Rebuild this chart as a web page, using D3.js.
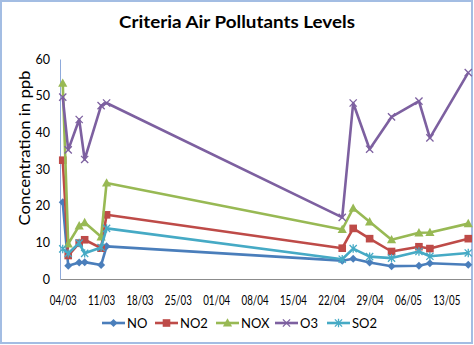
<!DOCTYPE html>
<html>
<head>
<meta charset="utf-8">
<script src="https://cdn.jsdelivr.net/npm/d3@7"></script>
<style>
  html, body { margin: 0; padding: 0; background: #fff; }
  svg { display: block; }
  text { font-family: Lato, "Liberation Sans", sans-serif; fill: #000; }
</style>
</head>
<body>
<svg id="chart" width="474" height="345"></svg>
<script>
// ---- data ----
const dates = ["2013-03-04","2013-03-05","2013-03-07","2013-03-08","2013-03-11","2013-03-12",
               "2013-04-24","2013-04-26","2013-04-29","2013-05-03","2013-05-08","2013-05-10","2013-05-17"];
const NO  = [20.9, 3.6, 4.5, 4.6, 3.8, 8.9, 5.0, 5.5, 4.5, 3.5, 3.6, 4.3, 3.9];
const NO2 = [32.4, 6.4, 9.8, 10.7, 8.4, 17.5, 8.4, 13.8, 11.0, 7.5, 8.8, 8.3, 11.0];
const NOX = [53.4, 9.6, 14.5, 15.4, 11.5, 26.2, 13.5, 19.3, 15.6, 10.7, 12.6, 12.7, 15.1];
const O3  = [49.6, 35.2, 43.5, 32.6, 47.3, 48.0, 16.8, 48.0, 35.4, 44.2, 48.5, 38.5, 56.3];
const SO2 = [8.2, 7.0, 9.8, 7.0, 8.6, 13.8, 5.4, 8.3, 6.1, 5.7, 7.5, 6.2, 7.1];
const seriesNames = ["NO", "NO2", "NOX", "O3", "SO2"];
const seriesColors = ["#4A7EBB", "#BE4B48", "#98B954", "#7D60A0", "#46AAC5"];
const seriesMarkers = ["diamond", "square", "triangle", "x", "star"];
const yTicks = [0, 10, 20, 30, 40, 50, 60];
const xTickLabels = ["04/03","11/03","18/03","25/03","01/04","08/04","15/04","22/04","29/04","06/05","13/05"];
const domainStart = "2013-03-04", domainEnd = "2013-05-17";
const title = "Criteria Air Pollutants Levels";
const yTitle = "Concentration in ppb";

const seriesValues = [NO, NO2, NOX, O3, SO2];
const DAY = 864e5;
const parse = s => new Date(s + "T12:00:00Z");  // day centre

// ---- layout ----
const svg = d3.select("#chart");
const plot = { left: 60, right: 471, top: 59, bottom: 279 };

svg.append("rect").attr("x", 1).attr("y", 1).attr("width", 471).attr("height", 342)
  .attr("fill", "#fff").attr("stroke", "#a3bde3").attr("stroke-width", 2);

const x = d3.scaleUtc()
  .domain([new Date(domainStart + "T00:00:00Z"), new Date(+new Date(domainEnd + "T00:00:00Z") + DAY)])
  .range([plot.left, plot.right]);
const y = d3.scaleLinear().domain([0, 60]).range([plot.bottom, plot.top]);

// title
svg.append("text").attr("x", 237).attr("y", 28).attr("text-anchor", "middle")
  .attr("font-weight", "bold").attr("font-size", 17)
  .attr("textLength", 236).attr("lengthAdjust", "spacingAndGlyphs")
  .text(title);

// y axis
const yAxis = svg.append("g").attr("transform", `translate(${plot.left},0)`)
  .call(d3.axisLeft(y).tickValues(yTicks).tickSize(0).tickPadding(10));
yAxis.select(".domain").attr("stroke", "#8eaadb").attr("stroke-width", 1);
yAxis.selectAll("text").attr("font-size", 12.5).attr("fill", "#000")
  .style("font-family", "Lato, 'Liberation Sans', sans-serif");

// x axis
const xTickDates = xTickLabels.map(l => {
  const [d, m] = l.split("/");
  return parse(`2013-${m}-${d}`);
});
const xAxis = svg.append("g").attr("transform", `translate(0,${plot.bottom})`)
  .call(d3.axisBottom(x).tickValues(xTickDates).tickSize(0).tickPadding(17)
    .tickFormat((d, i) => xTickLabels[i]));
xAxis.select(".domain").attr("stroke", "#8c8c8c").attr("stroke-width", 1);
xAxis.selectAll("text").attr("font-size", 12.5).attr("fill", "#000")
  .attr("textLength", 27).attr("lengthAdjust", "spacingAndGlyphs")
  .style("font-family", "Lato, 'Liberation Sans', sans-serif");

// y title
svg.append("text").attr("transform", `translate(30,148) rotate(-90)`)
  .attr("text-anchor", "middle").attr("font-size", 14.5)
  .attr("textLength", 155).attr("lengthAdjust", "spacingAndGlyphs")
  .text(yTitle);

// markers
function drawMarker(g, type, color) {
  if (type === "diamond") {
    g.append("path").attr("d", "M0,-4L4,0L0,4L-4,0Z").attr("fill", color);
  } else if (type === "square") {
    g.append("rect").attr("x", -3.8).attr("y", -3.8).attr("width", 7.6).attr("height", 7.6).attr("fill", color);
  } else if (type === "triangle") {
    g.append("path").attr("d", "M0,-4.8L4.6,3.6L-4.6,3.6Z").attr("fill", color);
  } else if (type === "x") {
    g.append("path").attr("d", "M-3.6,-3.6L3.6,3.6M-3.6,3.6L3.6,-3.6")
      .attr("stroke", color).attr("stroke-width", 1.3).attr("fill", "none");
  } else if (type === "star") {
    g.append("path").attr("d", "M-3.6,-3.6L3.6,3.6M-3.6,3.6L3.6,-3.6M0,-4.2L0,4.2")
      .attr("stroke", color).attr("stroke-width", 1.3).attr("fill", "none");
  }
}

const line = d3.line().x(d => x(d.date)).y(d => y(d.v));
const dateObjs = dates.map(parse);

seriesNames.forEach((name, si) => {
  const pts = seriesValues[si].map((v, i) => ({ date: dateObjs[i], v }));
  const color = seriesColors[si];
  const g = svg.append("g").attr("class", "series");
  g.append("path").datum(pts).attr("d", line).attr("fill", "none")
    .attr("stroke", color).attr("stroke-width", 2.6).attr("stroke-linejoin", "round");
  g.selectAll("g.m").data(pts).join("g").attr("class", "m")
    .attr("transform", d => `translate(${x(d.date)},${y(d.v)})`)
    .each(function () { drawMarker(d3.select(this), seriesMarkers[si], color); });
});

// legend
const legendStarts = [102, 155, 216, 275, 327];
const legend = svg.append("g").attr("transform", "translate(0,323)");
seriesNames.forEach((name, si) => {
  const g = legend.append("g").attr("transform", `translate(${legendStarts[si]},0)`);
  g.append("line").attr("x1", 0).attr("x2", 23).attr("y1", 0).attr("y2", 0)
    .attr("stroke", seriesColors[si]).attr("stroke-width", 2.6);
  const m = g.append("g").attr("transform", "translate(11.5,0)");
  drawMarker(m, seriesMarkers[si], seriesColors[si]);
  g.append("text").attr("x", 25).attr("y", 4.5).attr("font-size", 13).text(name);
});
</script>
</body>
</html>
